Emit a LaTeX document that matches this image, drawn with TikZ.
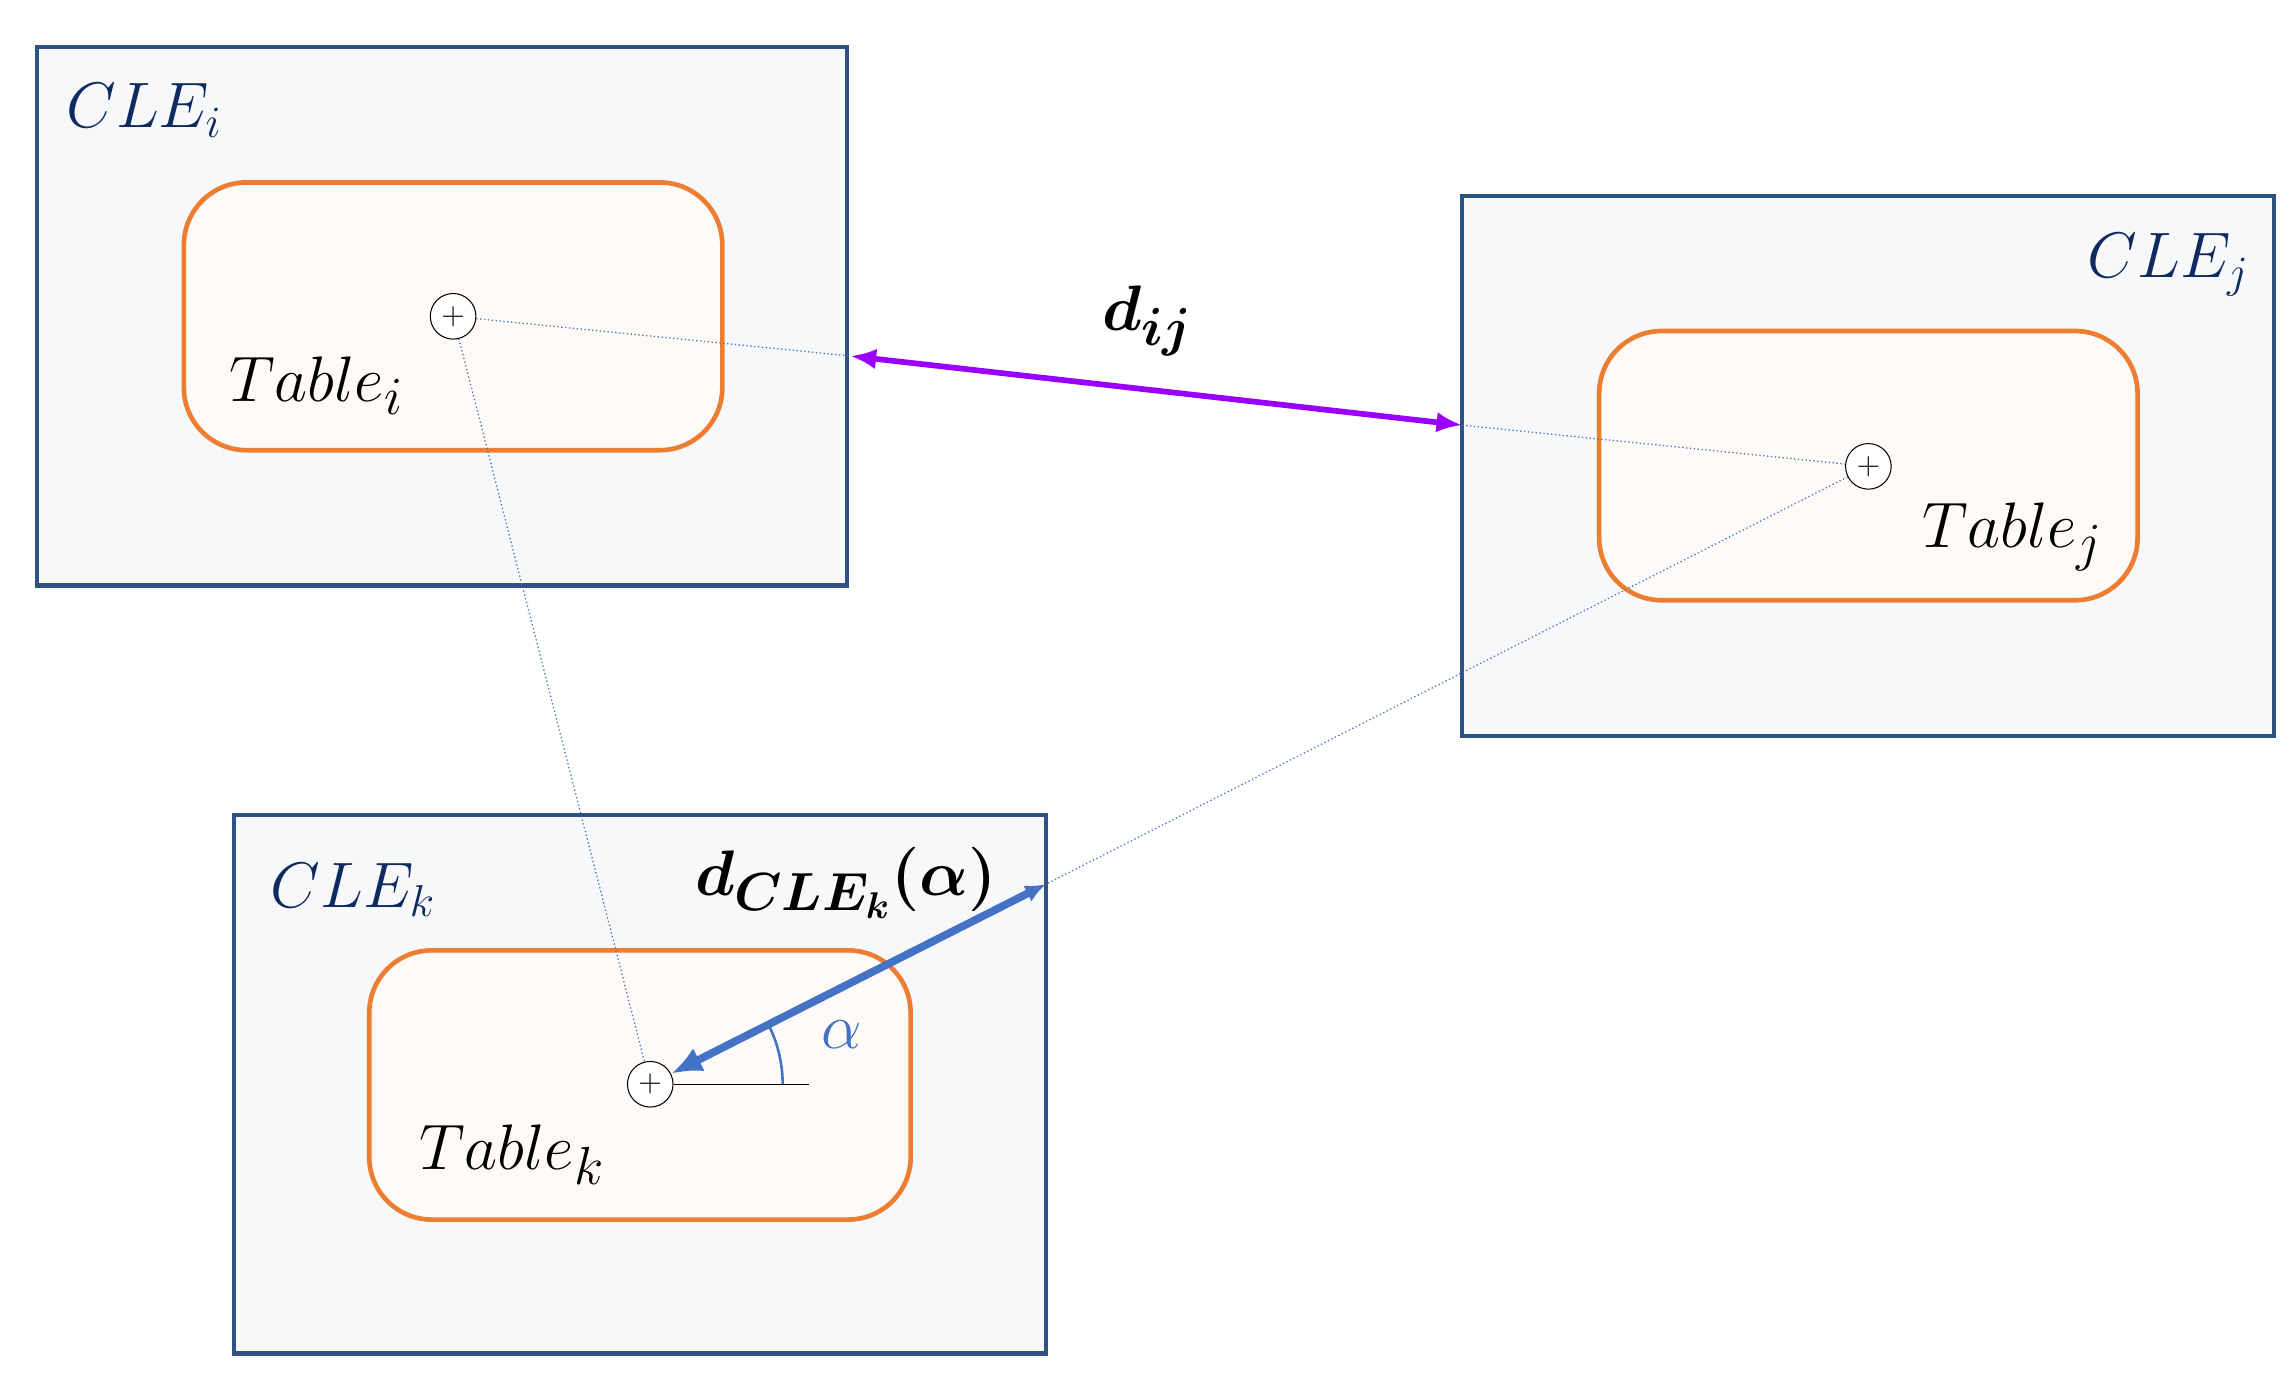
\documentclass[tikz,border=0pt]{standalone}
\usepackage{amsmath,bm}
\usetikzlibrary{arrows.meta}
\definecolor{cleb}{HTML}{2E5283}
\definecolor{clef}{HTML}{F7F8FA}
\definecolor{tabo}{HTML}{ED7D31}
\definecolor{tabf}{HTML}{FEFAF7}
\definecolor{navy}{HTML}{0E2A5E}
\definecolor{purp}{HTML}{9900FF}
\definecolor{blu}{HTML}{4472C4}
\begin{document}
\begin{tikzpicture}[x=0.02cm,y=-0.02cm,
 cle/.style={draw=cleb,fill=clef,line width=1.6pt},
 tab/.style={draw=tabo,fill=tabf,line width=1.8pt,rounded corners=0.85cm},
 ctr/.style={circle,draw,fill=white,minimum size=0.62cm,inner sep=0pt,font=\large},
 dl/.style={blu,densely dotted,line width=0.5pt},
 clel/.style={text=navy,font=\fontsize{26}{30}\selectfont},
 tabl/.style={font=\fontsize{30}{34}\selectfont}]
\useasboundingbox (0,0) rectangle (1560,940);
\draw[cle] (25,32) rectangle (576,398);
\draw[tab] (125,124) rectangle (491,306);
\draw[cle] (994,133) rectangle (1546,500);
\draw[tab] (1087,225) rectangle (1453,408);
\draw[cle] (159,554) rectangle (711,920);
\draw[tab] (251,646) rectangle (619,829);
\node[clel] (li) at (98,75) {$CLE_i$};
\node[clel] (lj) at (1474,180) {$CLE_j$};
\node[clel] (lk) at (240,605) {$CLE_k$};
\node[tabl] (ti) at (215,262) {$Table_i$};
\node[tabl] (tj) at (1368,365) {$Table_j$};
\node[tabl] (tk) at (348,785) {$Table_k$};
\coordinate (ai) at (578,242);
\coordinate (aj) at (994,289);
\coordinate (ak) at (711,601);
\coordinate (hk) at (550,737);
\node[ctr] (ci) at (308,215) {+};
\node[ctr] (cj) at (1270,317) {+};
\node[ctr] (ck) at (442,737) {+};
\draw[dl] (ci) -- (ai);
\draw[dl] (aj) -- (cj);
\draw[dl] (ci) -- (ck);
\draw[dl] (cj) -- (ak);
\draw[purp,line width=2.2pt,{Latex[length=10pt,width=8pt]}-{Latex[length=10pt,width=8pt]}] (ai) -- (aj);
\node[font=\fontsize{28}{32}\selectfont] (dij) at (780,218) {$\bm{d_{ij}}$};
\draw (ck) -- (hk);
\draw[blu,line width=1pt] ([shift={(0:90)}]442,737) arc[start angle=0,end angle=-28,radius=90];
\draw[blu,line width=3pt,{Latex[length=8pt,width=7pt]}-{Latex[length=12pt,width=10pt]}] (ak) -- (ck);
\node[font=\fontsize{28}{32}\selectfont] (dk) at (575,600) {$\bm{d_{CLE_k}(\alpha)}$};
\node[blu,font=\fontsize{28}{32}\selectfont] (al) at (572,703) {$\alpha$};
\end{tikzpicture}
\end{document}
